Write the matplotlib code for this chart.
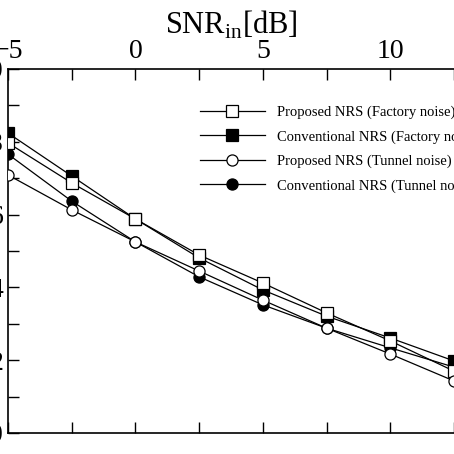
import matplotlib
matplotlib.use("Agg")
import matplotlib.pyplot as plt
from matplotlib.ticker import MultipleLocator

snr = [-5, -2.5, 0, 2.5, 5, 7.5, 10, 12.5]
prop_factory = [7.97, 6.87, 5.88, 4.89, 4.12, 3.30, 2.53, 1.70]
conv_factory = [8.24, 7.06, 5.88, 4.81, 3.93, 3.21, 2.61, 1.98]
prop_tunnel = [7.09, 6.13, 5.25, 4.45, 3.65, 2.88, 2.17, 1.43]
conv_tunnel = [7.66, 6.37, 5.25, 4.29, 3.52, 2.88, 2.34, 1.81]
labels = ["Proposed NRS (Factory noise)", "Conventional NRS (Factory noise)",
          "Proposed NRS (Tunnel noise)", "Conventional NRS (Tunnel noise)"]

plt.rcParams['font.family'] = ['Liberation Serif', 'DejaVu Serif']
plt.rcParams['mathtext.fontset'] = 'custom'
plt.rcParams['mathtext.rm'] = 'Liberation Serif'
fig = plt.figure(figsize=(4.54, 4.54), dpi=100)
ax = fig.add_axes([8/454, 1-433/454, 446/454, (433-69)/454])
kw = dict(color='black', lw=0.9, markersize=8, markeredgewidth=0.9)
h2, = ax.plot(snr, conv_factory, marker='s', mfc='black', mec='black', label=labels[1], zorder=2, **kw)
h1, = ax.plot(snr, prop_factory, marker='s', mfc='white', mec='black', label=labels[0], zorder=3, **kw)
h4, = ax.plot(snr, conv_tunnel, marker='o', mfc='black', mec='black', label=labels[3], zorder=2, **kw)
h3, = ax.plot(snr, prop_tunnel, marker='o', mfc='white', mec='black', label=labels[2], zorder=3, **kw)
ax.set_xlim(-5, 12.5)
ax.set_ylim(0, 10)
ax.xaxis.set_major_locator(MultipleLocator(5))
ax.xaxis.set_minor_locator(MultipleLocator(2.5))
ax.yaxis.set_major_locator(MultipleLocator(2))
ax.yaxis.set_minor_locator(MultipleLocator(1))
ax.xaxis.tick_top()
ax.xaxis.set_label_position('top')
ax.tick_params(which='both', direction='in', top=True, bottom=True, left=True, right=False,
               labelsize=20, width=1, length=8)
ax.set_xlabel(r"SNR$_{\rm in}$[dB]", fontsize=22, labelpad=4)
ax.spines['right'].set_visible(False)
for s in ax.spines.values():
    s.set_linewidth(1.2)
ax.legend([h1, h2, h3, h4], [labels[0], labels[1], labels[2], labels[3]],
          loc='upper left', bbox_to_anchor=(0.40, 0.935), frameon=False, fontsize=10.5,
          handlelength=4.5, labelspacing=0.75)
fig.savefig("out.png", dpi=100)
